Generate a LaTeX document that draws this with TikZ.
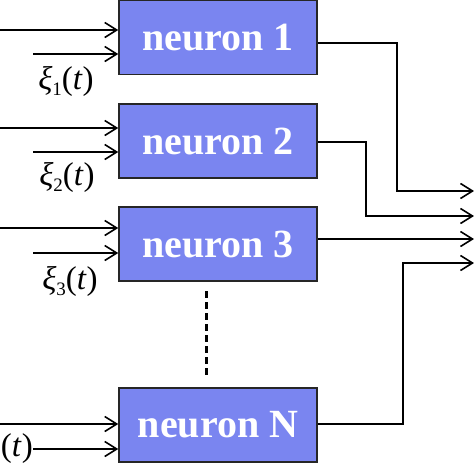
\documentclass[tikz,border=0pt]{standalone}
\usepackage{fontspec}
\setmainfont{Liberation Serif}
\usetikzlibrary{arrows.meta}
\definecolor{boxblue}{RGB}{122,133,240}
\tikzset{
  neuronbox/.style={draw=black!85, line width=1.5pt, fill=boxblue, minimum width=198pt, minimum height=74pt, inner sep=0pt, text=white, font=\fontsize{40}{44}\selectfont\bfseries},
  conn/.style={line width=1.6pt, -{Straight Barb[length=12pt,width=15pt,line width=1.6pt]}},
  lbl/.style={inner sep=0pt, font=\fontsize{33}{36}\selectfont}
}
\newcommand{\xilab}[1]{\textit{ξ}\raisebox{-0.2em}{\fontsize{19}{19}\selectfont #1}(\textit{t})}
\begin{document}
\begin{tikzpicture}[x=1pt,y=-1pt]
\useasboundingbox (0,0) rectangle (474,474);
\node[neuronbox] (n1) at (218,37.5) {neuron 1};
\node[neuronbox] (n2) at (218,141) {neuron 2};
\node[neuronbox] (n3) at (218,244) {neuron 3};
\node[neuronbox] (nN) at (218,425) {neuron N};
% inputs
\foreach \n/\ya/\yb in {n1/30/54, n2/128/152, n3/228/253, nN/424/449}{
  \coordinate (\n a) at (-2,\ya);
  \coordinate (\n b) at (33,\yb);
  \draw[conn] (\n a) -- (\n a -| \n.west);
  \draw[conn] (\n b) -- (\n b -| \n.west);
}
\node[lbl] (l1) at (66,81) {\xilab{1}};
\node[lbl] (l2) at (67,177) {\xilab{2}};
\node[lbl] (l3) at (70,281) {\xilab{3}};
\node[lbl, anchor=east] (lN) at (33,449) {(\textit{t})};
% dashed
\coordinate (d1) at (206,291);
\coordinate (d2) at (206,377);
\draw[line width=3pt, dash pattern=on 7pt off 4pt] (d1) -- (d2);
% outputs
\coordinate (o1) at (474,191);
\coordinate (o2) at (474,216);
\coordinate (o3) at (474,239);
\coordinate (oN) at (474,263);
\draw[conn] (n1.east |- 0,43) -- (397,43) -- (397,191) -- (o1);
\draw[conn] (n2.east |- 0,142) -- (366,142) -- (366,216) -- (o2);
\draw[conn] (n3.east |- 0,239) -- (o3);
\draw[conn] (nN.east |- 0,424) -- (403,424) -- (403,263) -- (oN);
\end{tikzpicture}
\end{document}
